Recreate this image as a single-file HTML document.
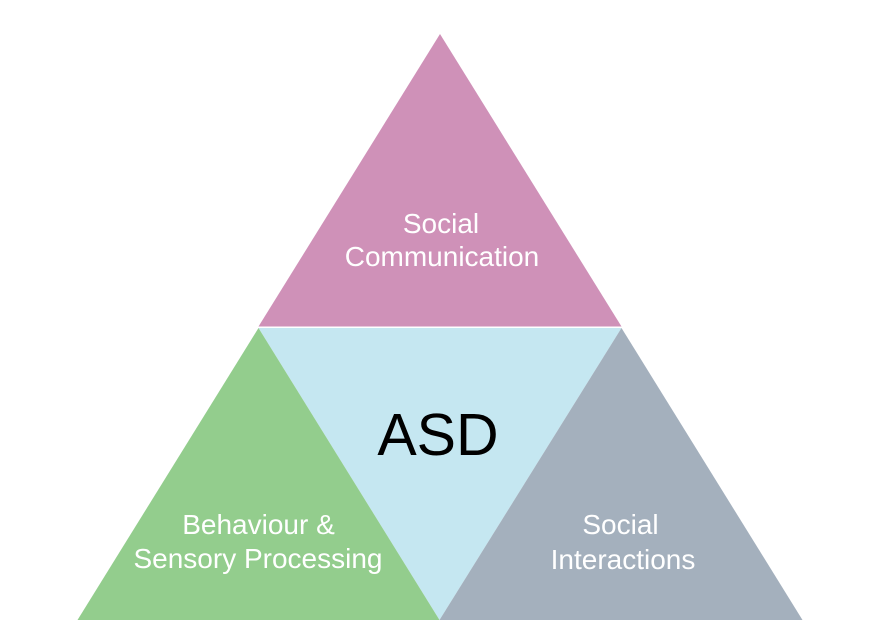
<!DOCTYPE html>
<html>
<head>
<meta charset="utf-8">
<style>
html,body{margin:0;padding:0;background:#fff;}
svg{display:block;}
text{font-family:"Liberation Sans",sans-serif;}
</style>
</head>
<body>
<svg width="870" height="640" viewBox="0 0 870 640" xmlns="http://www.w3.org/2000/svg">
  <rect width="870" height="640" fill="#ffffff"/>
  <!-- top pink -->
  <polygon points="440,34 621.5,326.5 258.5,326.5" fill="#CF91B8"/>
  <!-- middle light blue -->
  <polygon points="258.5,328 621.5,328 439.5,620" fill="#C5E7F1"/>
  <!-- left green -->
  <polygon points="258.5,328 439.5,620 77.5,620" fill="#93CD8D"/>
  <!-- right gray -->
  <polygon points="621.5,328 802.5,620 439.5,620" fill="#A4B0BD"/>

  <g fill="#ffffff" font-size="28" text-anchor="middle">
    <text x="441" y="233">Social</text>
    <text x="442" y="266">Communication</text>
    <text x="258.5" y="534">Behaviour &amp;</text>
    <text x="258" y="568">Sensory Processing</text>
    <text x="620.5" y="534">Social</text>
    <text x="623" y="569">Interactions</text>
  </g>
  <text x="438" y="455" font-size="59" text-anchor="middle" fill="#000000">ASD</text>
</svg>
</body>
</html>
